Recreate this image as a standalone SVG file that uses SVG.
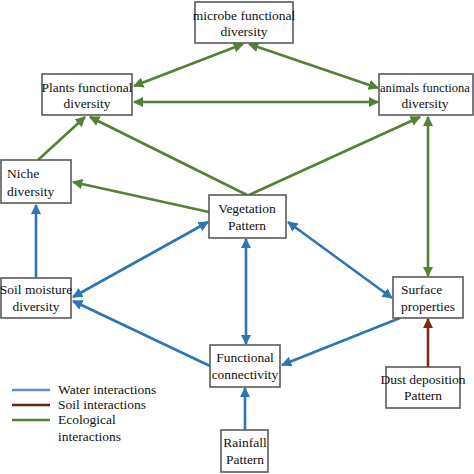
<svg xmlns="http://www.w3.org/2000/svg" width="474" height="474" viewBox="0 0 474 474">
<defs>
<style>
.box{fill:#fff;stroke:#5a5a5a;stroke-width:1.6}
text{font-family:"Liberation Serif","Times New Roman",Tinos,"DejaVu Serif",serif;font-size:13.5px;fill:#111}
.c{text-anchor:middle}
.g{stroke:#538135;stroke-width:2.6;fill:none}
.b{stroke:#2e75b6;stroke-width:2.6;fill:none}
.r{stroke:#7b2c0e;stroke-width:2.6;fill:none}
</style>
<marker id="ag" viewBox="0 0 10 10" refX="9" refY="5" markerWidth="4" markerHeight="4" orient="auto-start-reverse" markerUnits="strokeWidth"><path d="M0,0 L10,5 L0,10 Z" fill="#538135"/></marker>
<marker id="ab" viewBox="0 0 10 10" refX="9" refY="5" markerWidth="4" markerHeight="4" orient="auto-start-reverse" markerUnits="strokeWidth"><path d="M0,0 L10,5 L0,10 Z" fill="#2e75b6"/></marker>
<marker id="ar" viewBox="0 0 10 10" refX="9" refY="5" markerWidth="4" markerHeight="4" orient="auto-start-reverse" markerUnits="strokeWidth"><path d="M0,0 L10,5 L0,10 Z" fill="#7b2c0e"/></marker>
</defs>
<rect width="474" height="474" fill="#fff"/>
<g id="connectors">
<line class="g" x1="134" y1="86" x2="243" y2="44" marker-start="url(#ag)" marker-end="url(#ag)"/>
<line class="g" x1="249" y1="44" x2="378" y2="88" marker-start="url(#ag)" marker-end="url(#ag)"/>
<line class="g" x1="134" y1="102" x2="378" y2="102" marker-start="url(#ag)" marker-end="url(#ag)"/>
<line class="g" x1="38" y1="160" x2="85" y2="117" marker-end="url(#ag)"/>
<line class="g" x1="247" y1="195" x2="90" y2="117" marker-end="url(#ag)"/>
<line class="g" x1="249" y1="195" x2="420" y2="117" marker-end="url(#ag)"/>
<line class="g" x1="209" y1="212" x2="73" y2="182" marker-end="url(#ag)"/>
<line class="g" x1="428" y1="117" x2="428" y2="276" marker-start="url(#ag)" marker-end="url(#ag)"/>
<line class="b" x1="36" y1="278" x2="36" y2="205" marker-end="url(#ab)"/>
<line class="b" x1="208" y1="222" x2="73" y2="297" marker-start="url(#ab)" marker-end="url(#ab)"/>
<line class="b" x1="288" y1="222" x2="392" y2="298" marker-start="url(#ab)" marker-end="url(#ab)"/>
<line class="b" x1="246" y1="239" x2="246" y2="344" marker-start="url(#ab)" marker-end="url(#ab)"/>
<line class="b" x1="210" y1="366" x2="73" y2="301" marker-end="url(#ab)"/>
<line class="b" x1="400" y1="318" x2="282" y2="365" marker-end="url(#ab)"/>
<line class="r" x1="428" y1="367" x2="428" y2="319" marker-end="url(#ar)"/>
<line class="b" x1="245" y1="430" x2="245" y2="388" marker-end="url(#ab)"/>
</g>
<g id="microbe"><rect class="box" x="195" y="2" width="98" height="41"/><text class="c" x="244" y="20">microbe functional</text><text class="c" x="244" y="36">diversity</text></g>
<g id="plants"><rect class="box" x="42" y="74" width="90" height="41"/><text class="c" x="87" y="92">Plants functional</text><text class="c" x="87" y="108">diversity</text></g>
<g id="animals"><rect class="box" x="379" y="74" width="94" height="41"/><text x="380" y="92" style="font-size:12.6px">animals functiona</text><text class="c" x="425" y="108">diversity</text></g>
<g id="niche"><rect class="box" x="1" y="160" width="70" height="43"/><text x="7" y="178">Niche</text><text x="7" y="196">diversity</text></g>
<g id="vegetation"><rect class="box" x="209" y="195" width="77" height="43"/><text class="c" x="247" y="213">Vegetation</text><text class="c" x="247" y="230">Pattern</text></g>
<g id="soil"><rect class="box" x="1" y="278" width="70" height="40"/><text class="c" x="36" y="294">Soil moisture</text><text class="c" x="36" y="311">diversity</text></g>
<g id="surface"><rect class="box" x="393" y="277" width="70" height="41"/><text x="401" y="294">Surface</text><text x="401" y="311">properties</text></g>
<g id="functional"><rect class="box" x="210" y="345" width="70" height="42"/><text class="c" x="245" y="362">Functional</text><text class="c" x="245" y="379">connectivity</text></g>
<g id="dust"><rect class="box" x="386" y="367" width="74" height="41"/><text class="c" x="423" y="384">Dust deposition</text><text class="c" x="423" y="400">Pattern</text></g>
<g id="rainfall"><rect class="box" x="221" y="430" width="47" height="42"/><text class="c" x="245" y="447">Rainfall</text><text class="c" x="245" y="464">Pattern</text></g>
<g id="legend">
<line x1="12" y1="390" x2="50" y2="390" stroke="#5b8fc7" stroke-width="2.6"/>
<line x1="12" y1="405" x2="50" y2="405" stroke="#6b1f0b" stroke-width="2.6"/>
<line x1="12" y1="420" x2="50" y2="420" stroke="#538135" stroke-width="2.6"/>
<text x="58" y="394">Water interactions</text>
<text x="58" y="409">Soil interactions</text>
<text x="58" y="424">Ecological</text>
<text x="58" y="441">interactions</text>
</g>
</svg>
